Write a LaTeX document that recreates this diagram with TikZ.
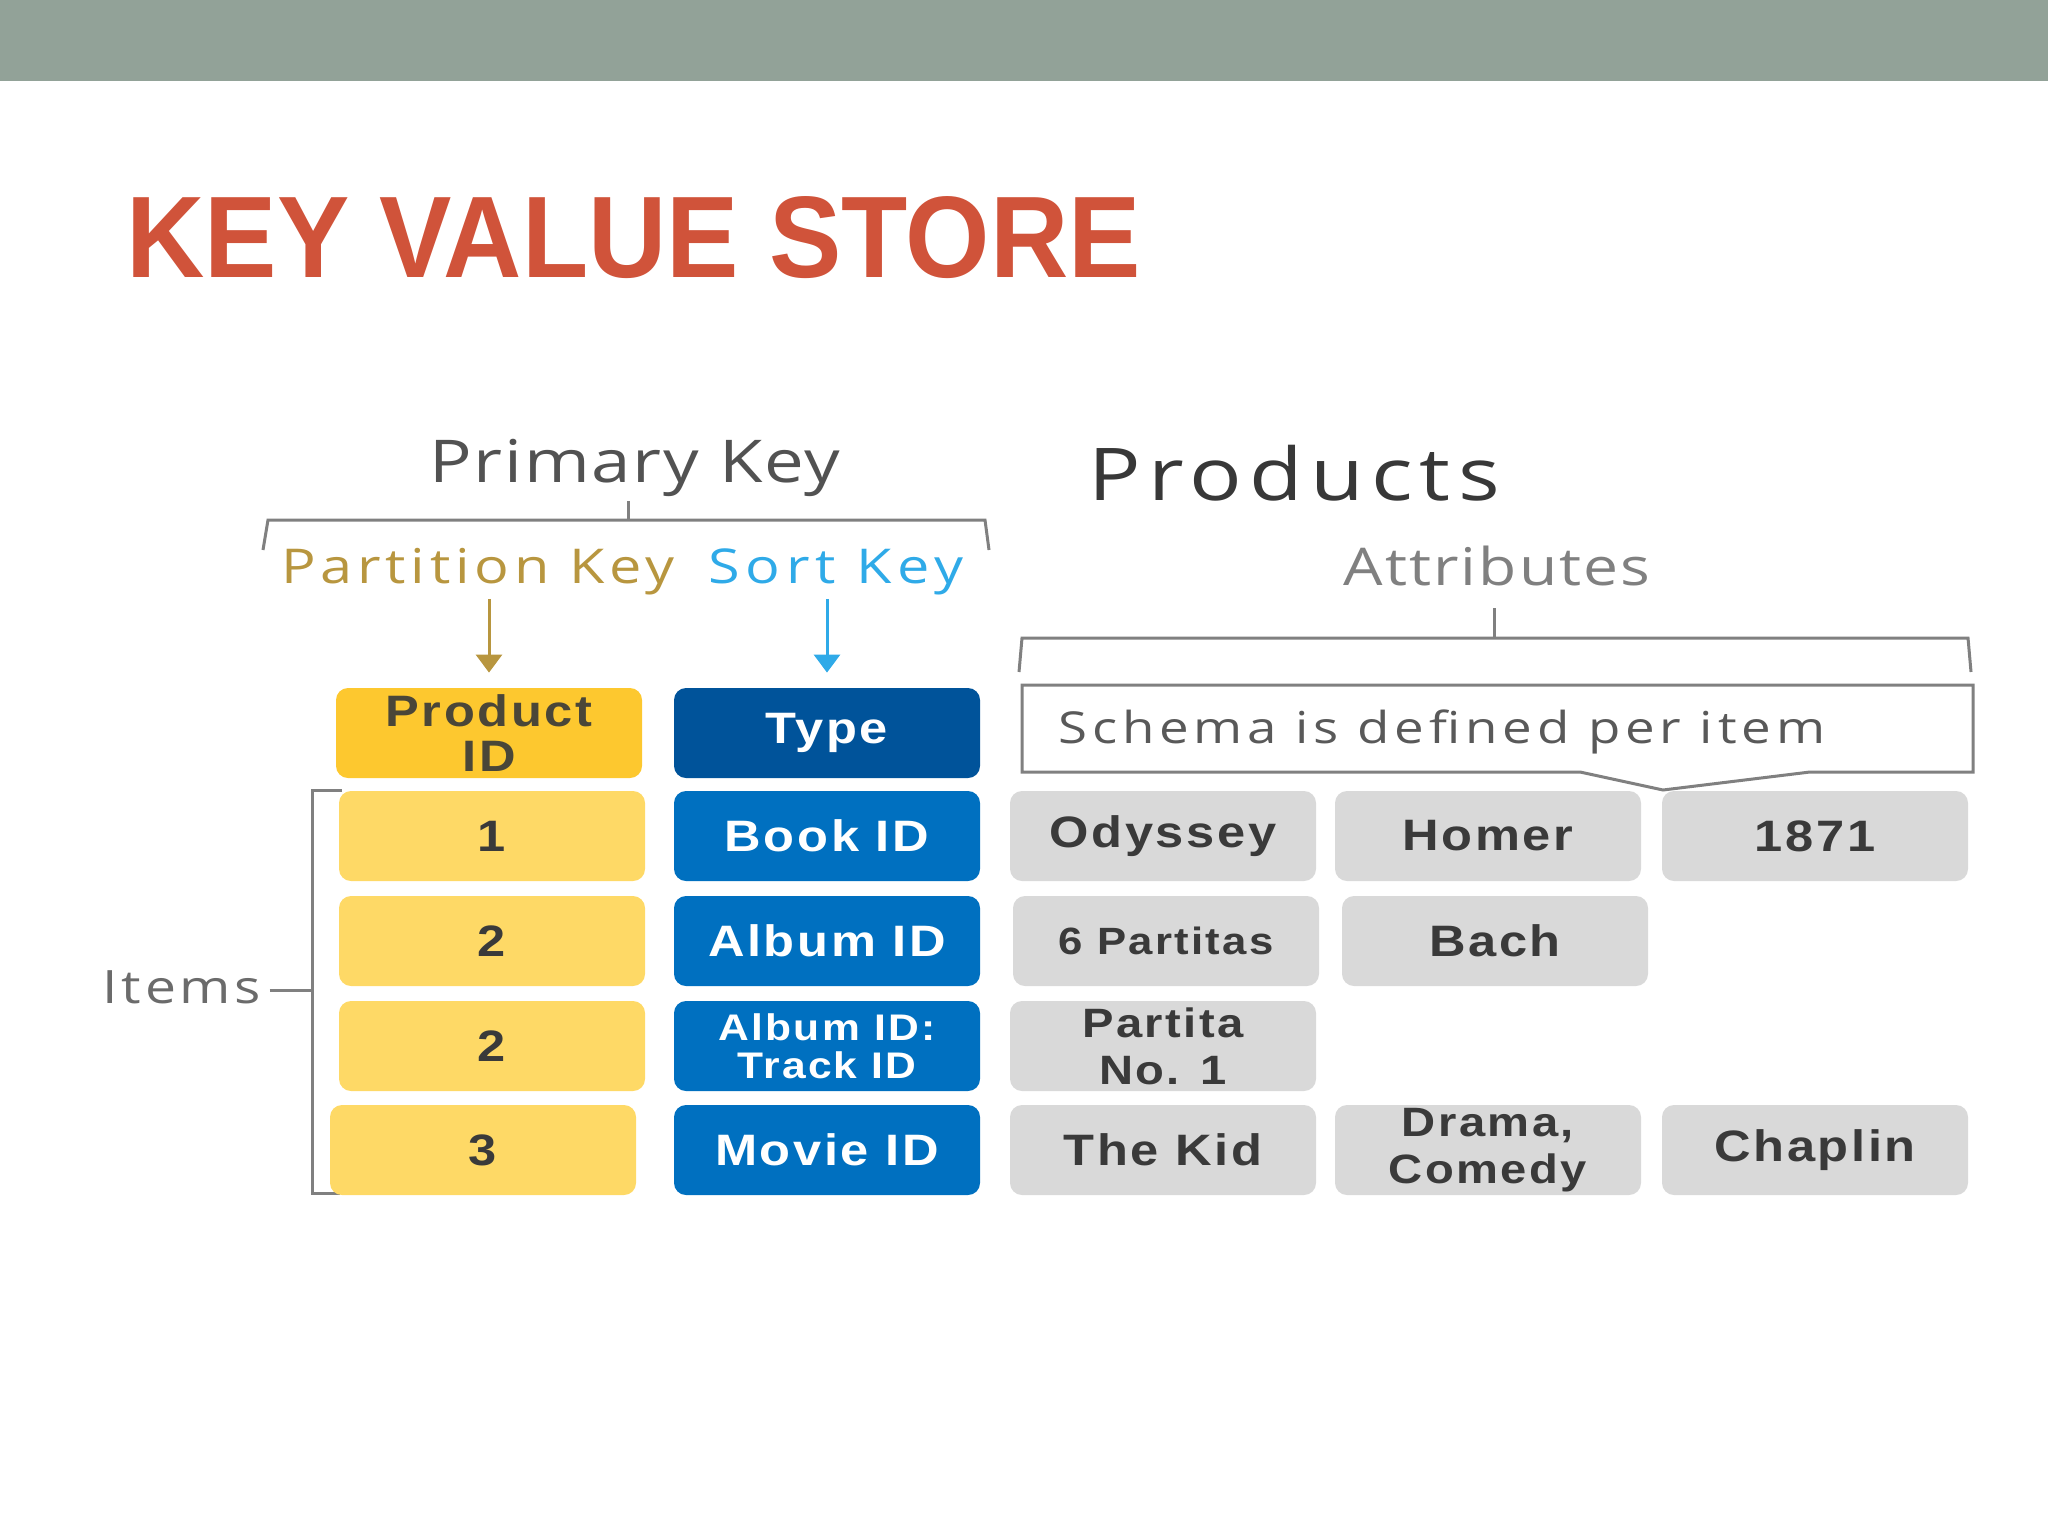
\documentclass[tikz,border=0pt]{standalone}
\usepackage{fontspec}
\setmainfont{Liberation Sans}
\newfontfamily\lbl[FakeStretch=1.2]{Open Sans}
\newfontfamily\boxfam[FakeStretch=1.15,LetterSpace=6]{Liberation Sans}
\usetikzlibrary{arrows.meta}
\definecolor{barc}{HTML}{92A298}
\definecolor{titlec}{HTML}{D0533A}
\definecolor{yhead}{HTML}{FDC82F}
\definecolor{ycellc}{HTML}{FED966}
\definecolor{bhead}{HTML}{00539A}
\definecolor{bcellc}{HTML}{0070C0}
\definecolor{gcellc}{HTML}{D9D9D9}
\definecolor{goldc}{HTML}{B8963F}
\definecolor{skyc}{HTML}{2FAAE8}
\definecolor{brkc}{HTML}{808080}
\definecolor{darktext}{HTML}{3A3A3A}
\definecolor{headtext}{HTML}{4A4638}
\tikzset{
  cellbase/.style={rounded corners=6pt, minimum width=153pt, minimum height=45pt, inner sep=0pt, align=center,
    font=\boxfam\bfseries\fontsize{22}{22.5}\selectfont},
  ycell/.style={cellbase, fill=ycellc, text=darktext},
  bcell/.style={cellbase, fill=bcellc, text=white},
  gcell/.style={cellbase, fill=gcellc, text=darktext},
  brk/.style={draw=brkc, line width=1.5pt},
  lblnode/.style={inner sep=2pt},
  garrow/.style={draw=goldc, line width=1.5pt, -{Triangle[width=13pt,length=9pt]}},
  barrow/.style={draw=skyc, line width=1.5pt, -{Triangle[width=13pt,length=9pt]}},
}
\begin{document}
\begin{tikzpicture}[x=0.5pt,y=-0.5pt]
\useasboundingbox (0,0) rectangle (2048,1536);
\fill[barc] (0,0) rectangle (2048,81);

% title
\node[anchor=base west, inner sep=0pt, text=titlec, font=\fontsize{58}{60}\selectfont\bfseries] (title) at (126,277) {\scalebox{0.935}[1]{KEY VALUE STORE}};

% labels
\node[lblnode, anchor=base, text=black!68, font=\lbl\addfontfeatures{LetterSpace=3}\fontsize{29.5}{32}\selectfont] (pkey) at (635,482) {Primary Key};
\node[lblnode, anchor=base, text=goldc, font=\lbl\addfontfeatures{LetterSpace=10}\fontsize{24}{26}\selectfont] (partk) at (478,583) {Partition Key};
\node[lblnode, anchor=base, text=skyc, font=\lbl\addfontfeatures{LetterSpace=12}\fontsize{24}{26}\selectfont] (sortk) at (836,583) {Sort Key};
\node[lblnode, anchor=base, text=black!78, font=\lbl\addfontfeatures{LetterSpace=10}\fontsize{36.4}{40}\selectfont] (prods) at (1294,500) {Products};
\node[lblnode, anchor=base, text=black!50, font=\lbl\addfontfeatures{LetterSpace=4}\fontsize{26}{28}\selectfont] (attr) at (1497,585) {Attributes};
\node[lblnode, anchor=base, text=black!58, font=\lbl\addfontfeatures{LetterSpace=8}\fontsize{23}{25}\selectfont] (items) at (182,1003) {Items};

% brackets
\draw[brk] (263,550) -- (268,520) -- (985,520) -- (989,550);
\coordinate (pkt) at (628,520);
\draw[brk] (pkt) -- (pkt |- pkey.south);
\draw[brk] (1019,672) -- (1022,638) -- (1968,638) -- (1971,672);
\coordinate (att) at (1494,638);
\draw[brk] (att) -- (1494,608);
\coordinate (itx) at (312,990);
\draw[brk] (342,790) -- (312,790) -- (312,1193) -- (340,1193);
\draw[brk] ([xshift=2pt]items.east |- itx) -- (itx);

% schema callout
\draw[draw=brkc, line width=1.5pt, fill=white] (1022,685) -- (1973,685) -- (1973,772) -- (1810,772) -- (1663,790) -- (1580,772) -- (1022,772) -- cycle;
\node[anchor=base west, inner sep=0pt, text=black!65, font=\lbl\addfontfeatures{LetterSpace=11}\fontsize{22}{24}\selectfont] (schema) at (1058,743) {Schema is defined per item};

% header cells
\node[cellbase, fill=yhead, text=headtext] (prodid) at (489,733) {Product\\ID};
\node[cellbase, fill=bhead, text=white] (type) at (827,733) {Type};

% arrows
\draw[garrow] (prodid.north |- partk.south) -- ([yshift=7.5pt]prodid.north);
\draw[barrow] (type.north |- sortk.south) -- ([yshift=7.5pt]type.north);

% rows
\node[ycell] (y1) at (492,836) {1};
\node[ycell] (y2) at (492,941) {2};
\node[ycell] (y3) at (492,1046) {2};
\node[ycell] (y4) at (483,1150) {3};

\node[bcell] (b1) at (827,836) {Book ID};
\node[bcell] (b2) at (827,941) {Album ID};
\node[bcell, font=\boxfam\bfseries\fontsize{18.5}{19}\selectfont] (b3) at (827,1046) {Album ID:\\Track ID};
\node[bcell] (b4) at (827,1150) {Movie ID};

\node[gcell] (g11) at (1163,836) {Odyssey};
\node[gcell] (g12) at (1488,836) {Homer};
\node[gcell] (g13) at (1815,836) {1871};
\node[gcell, font=\boxfam\bfseries\fontsize{19}{20}\selectfont] (g21) at (1166,941) {6 Partitas};
\node[gcell] (g22) at (1495,941) {Bach};
\node[gcell, font=\boxfam\bfseries\fontsize{20.5}{23.5}\selectfont] (g31) at (1163,1046) {Partita\\No. 1};
\node[gcell] (g41) at (1163,1150) {The Kid};
\node[gcell, font=\boxfam\bfseries\fontsize{20.5}{23.5}\selectfont] (g42) at (1488,1150) {Drama,\\Comedy};
\node[gcell] (g43) at (1815,1150) {Chaplin};
\end{tikzpicture}
\end{document}
